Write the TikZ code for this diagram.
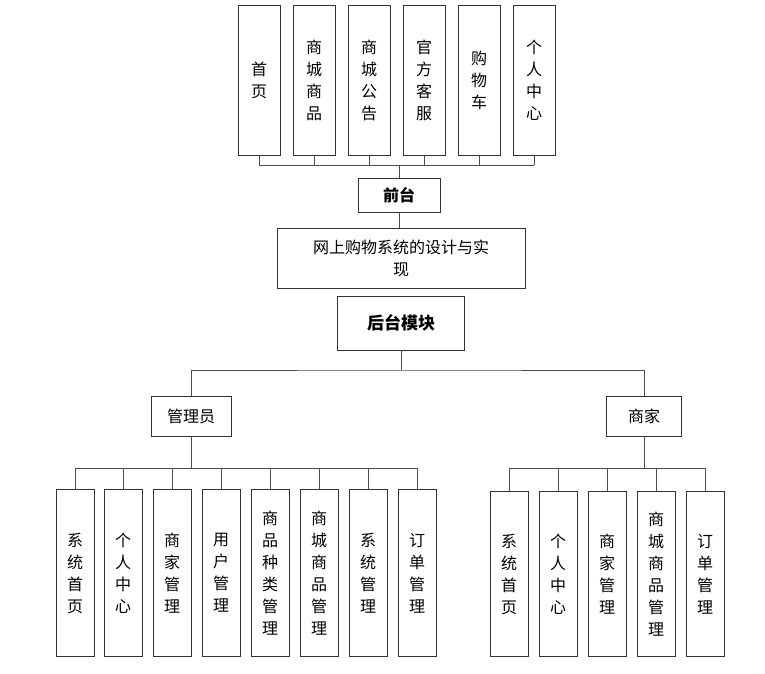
\documentclass[tikz,border=0pt]{standalone}
\usepackage{fontspec}
\newfontfamily\cjk{Noto Sans CJK SC}
\begin{document}
\begin{tikzpicture}[x=1pt,y=-1pt,
  box/.style={draw=black!80,fill=white,line width=0.8pt,inner sep=0pt,align=center,font=\cjk\fontsize{16}{22}\selectfont},
  vb/.style={box,minimum width=#1,minimum height=150},
  ln/.style={draw=black!70,line width=0.7pt}]
\useasboundingbox (0,0) rectangle (765,673);
% top
\foreach \n/\x/\t in {t1/259/首\\页,t2/314/商\\城\\商\\品,t3/369/商\\城\\公\\告,t4/424/官\\方\\客\\服,t5/479/购\\物\\车,t6/534/个\\人\\中\\心}
  \node[box,minimum width=42,minimum height=150] (\n) at (\x,80) {\t};
\node[box,minimum width=82,minimum height=34,font=\cjk\bfseries\fontsize{16}{20}\selectfont] (fr) at (399,195) {前台};
\coordinate (bus) at (399,165);
\foreach \n in {t1,t2,t3,t4,t5,t6} \draw[ln] (\n.south) -- (\n.south |- bus);
\draw[ln] (t1.south |- bus) -- (t6.south |- bus);
\draw[ln] (bus) -- (fr.north);
\node[box,minimum width=248,minimum height=60,text width=240] (sys) at (401,258) {网上购物系统的设计与实\\现};
\draw[ln] (fr.south) -- (sys.north -| fr.south);
\node[box,minimum width=127,minimum height=54,font=\cjk\bfseries\fontsize{17}{20}\selectfont] (bk) at (401,323) {后台模块};
\coordinate (b2) at (401,370);
\draw[ln] (bk.south) -- (b2);
\node[box,minimum width=80,minimum height=40] (adm) at (191,416) {管理员};
\node[box,minimum width=75,minimum height=40] (mer) at (644,416) {商家};
\draw[ln] (adm.north) |- (b2) -| (mer.north);
% admin
\coordinate (ab) at (246,468);
\foreach \n/\x/\t in {a1/75/系\\统\\首\\页,a2/123/个\\人\\中\\心,a3/172/商\\家\\管\\理,a4/221/用\\户\\管\\理,a5/270/商\\品\\种\\类\\管\\理,a6/319/商\\城\\商\\品\\管\\理,a7/368/系\\统\\管\\理,a8/417/订\\单\\管\\理}
  {\node[box,minimum width=38,minimum height=167] (\n) at (\x,573) {\t};
   \draw[ln] (\n.north) -- (\n.north |- ab);}
\draw[ln] (a1.north |- ab) -- (a8.north |- ab);
\draw[ln] (adm.south) -- (adm.south |- ab);
% merchant
\coordinate (mb) at (644,468);
\foreach \n/\x/\t in {m1/509/系\\统\\首\\页,m2/558/个\\人\\中\\心,m3/607/商\\家\\管\\理,m4/656/商\\城\\商\\品\\管\\理,m5/705/订\\单\\管\\理}
  {\node[box,minimum width=38,minimum height=165] (\n) at (\x,574) {\t};
   \draw[ln] (\n.north) -- (\n.north |- mb);}
\draw[ln] (m1.north |- mb) -- (m5.north |- mb);
\draw[ln] (mer.south) -- (mb);
\end{tikzpicture}
\end{document}
